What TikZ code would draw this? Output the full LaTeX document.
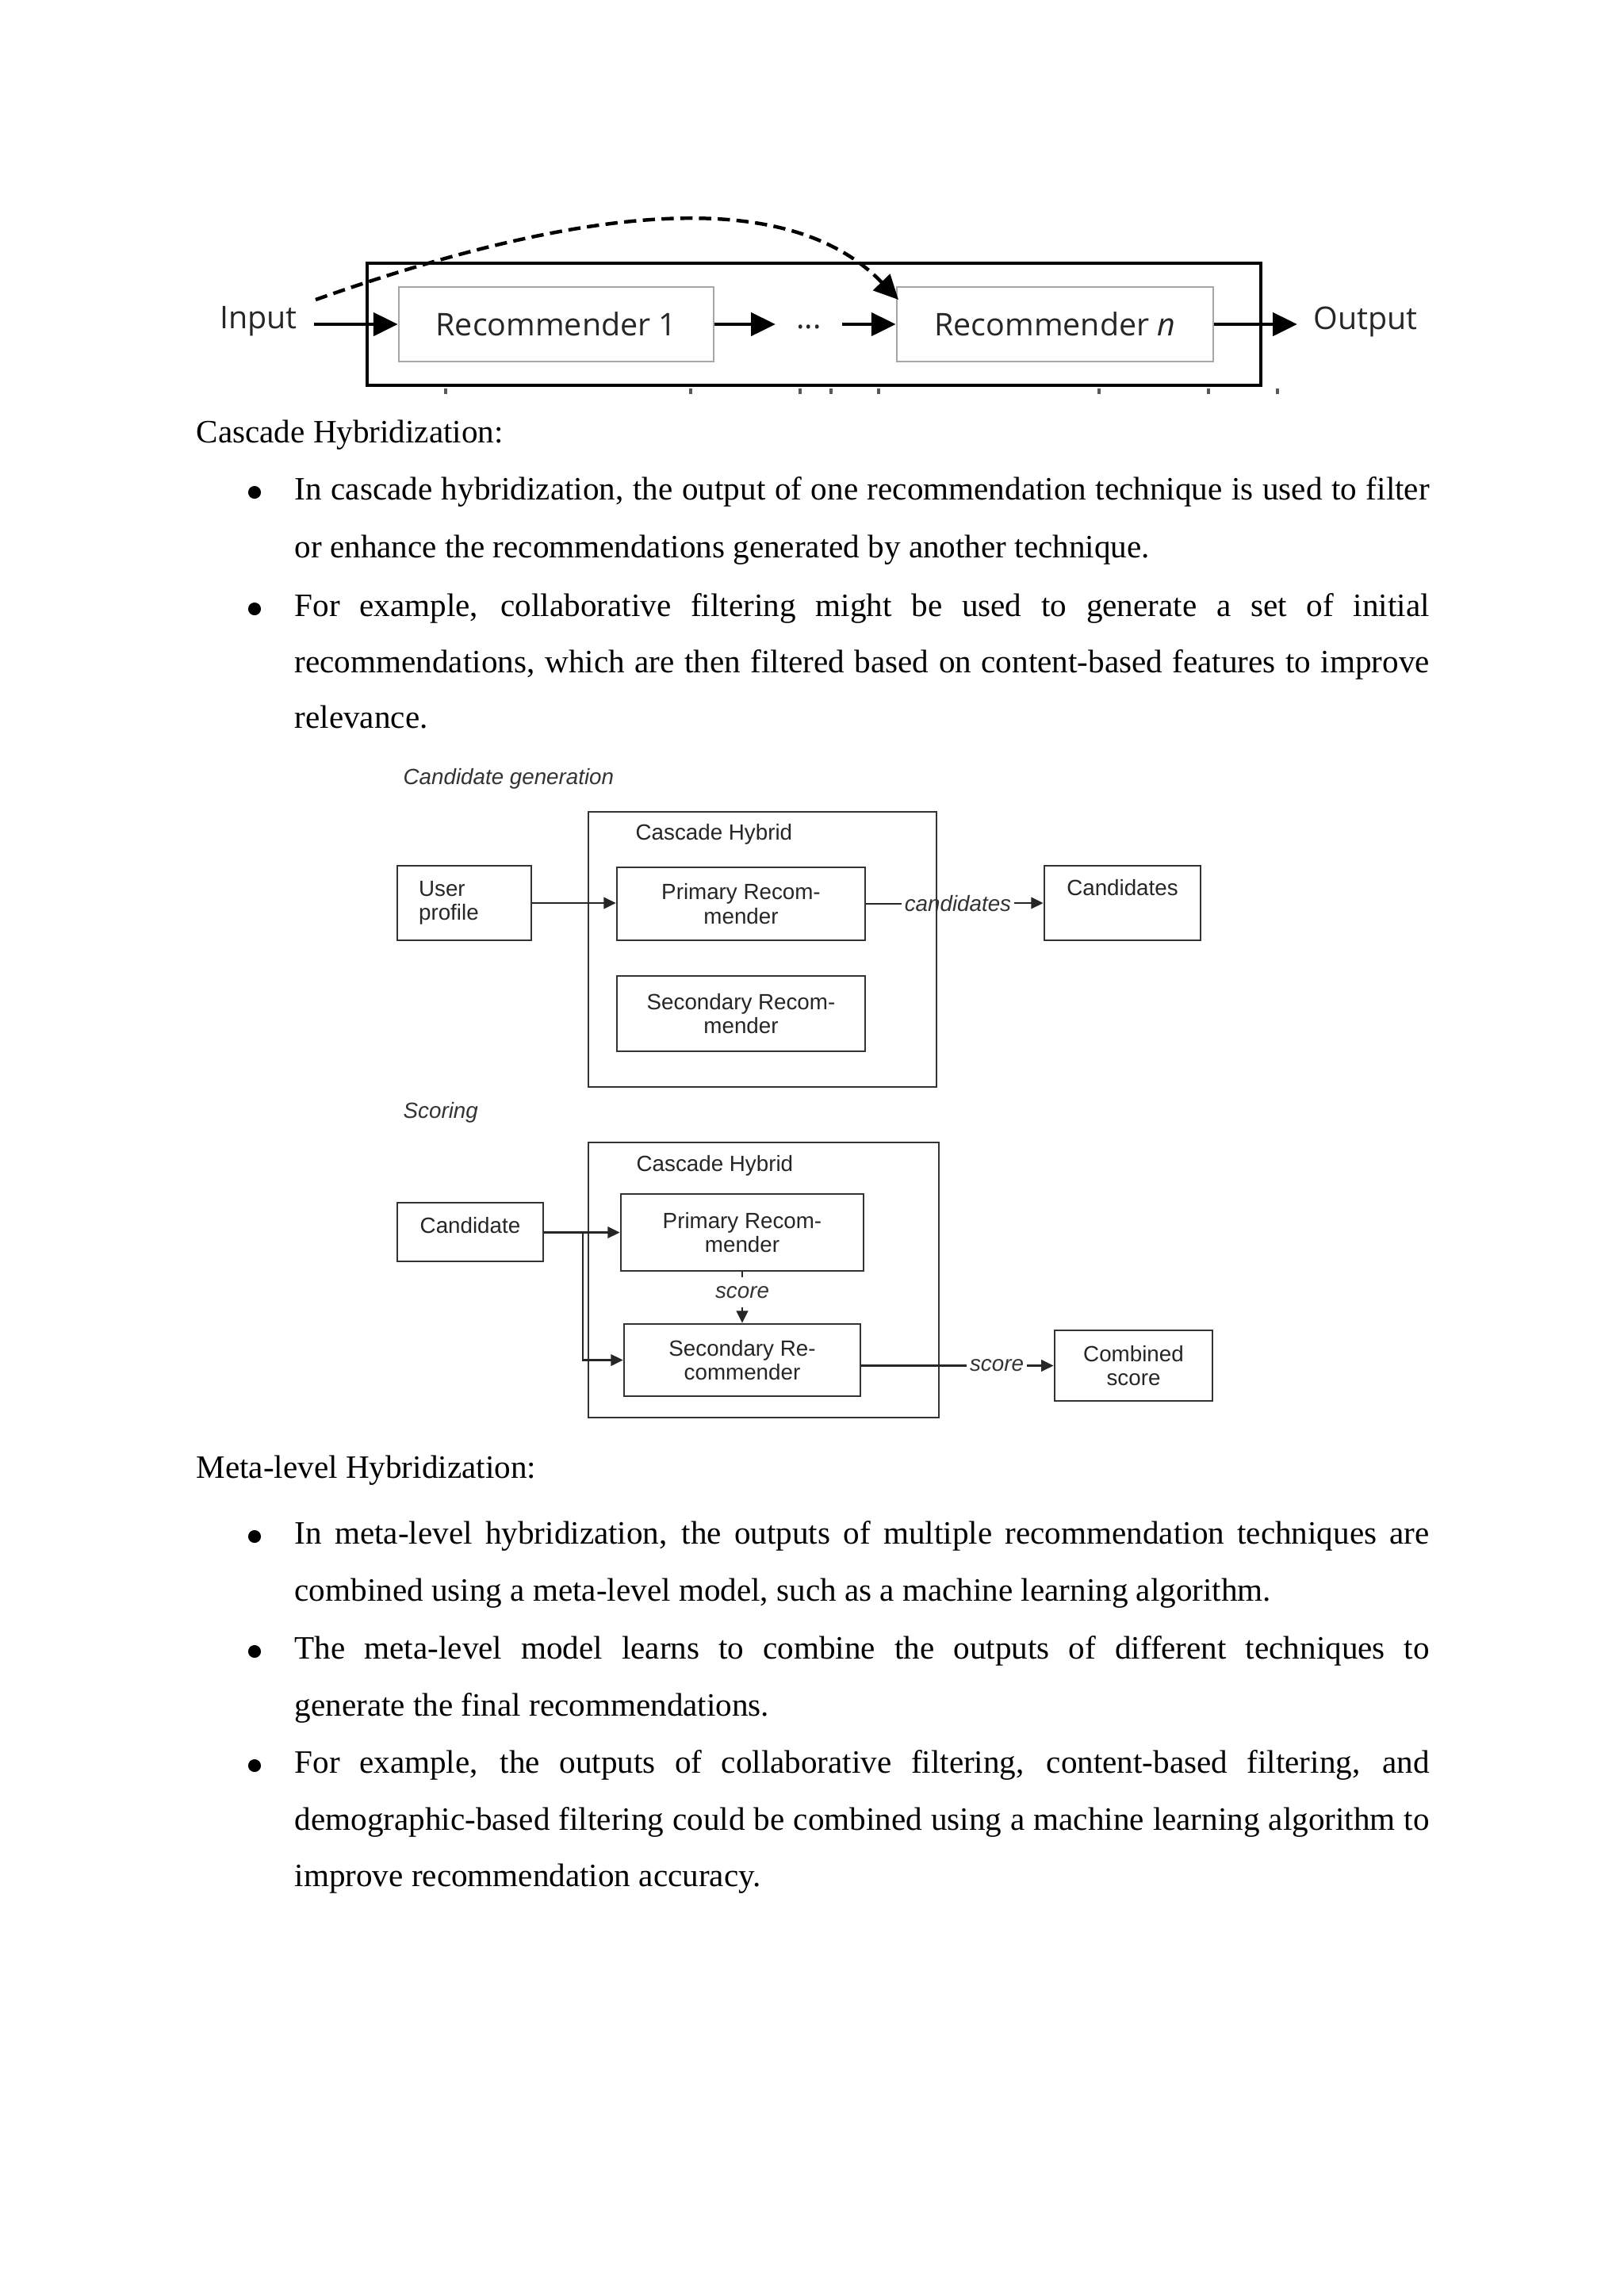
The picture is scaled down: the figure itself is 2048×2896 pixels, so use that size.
\documentclass[tikz,border=0pt]{standalone}
\usepackage{fontspec}
\setmainfont{Liberation Serif}
\newfontfamily\diagfont{Open Sans}
\newfontfamily\arialfont{Liberation Sans}
\usetikzlibrary{arrows.meta}
\newlength\txtw
\setlength\txtw{417.5pt}
\newcommand\jline[1]{\makebox[\txtw][s]{#1}}
\begin{document}
\begin{tikzpicture}[x=0.010254cm, y=-0.010254cm,
  body/.style={font=\fontsize{12pt}{14pt}\selectfont, anchor=base west, inner sep=0pt},
  bul/.style={circle, fill=black, inner sep=0pt, minimum size=4.7pt},
  topbox/.style={draw=black!35, line width=0.8pt, inner sep=0pt, font=\diagfont\fontsize{11.5pt}{13pt}\selectfont, text=black!85},
  toptext/.style={font=\diagfont\fontsize{11.5pt}{13pt}\selectfont, text=black!85, anchor=base, inner ysep=0pt},
  toparrow/.style={line width=1.3pt, -{Triangle[length=9pt,width=8.5pt]}},
  outerframe/.style={draw=black, line width=1.4pt, inner sep=0pt},
  cbox/.style={draw=black!80, line width=0.75pt, inner sep=0pt, font=\arialfont\fontsize{8.1pt}{8.8pt}\selectfont, text=black!85, align=center},
  clabel/.style={font=\arialfont\itshape\fontsize{8.1pt}{8.8pt}\selectfont, text=black!80, inner xsep=1pt, inner ysep=3pt},
  ctitle/.style={font=\arialfont\fontsize{8.1pt}{8.8pt}\selectfont, text=black!85, anchor=west, inner sep=0pt},
  carrow/.style={draw=black!85, line width=0.75pt, -{Triangle[length=4.5pt,width=4.2pt]}},
  cline/.style={draw=black!85, line width=0.75pt},
  tick/.style={fill=black!65}
]
\fill[white] (0,0) rectangle (2048,2896);
\useasboundingbox (0,0) rectangle (2048,2896);

% ---------- top diagram ----------
\node[outerframe, minimum width=328.8pt, minimum height=44.9pt] (outer) at (1026.5,409) {};
\node[topbox, minimum width=115.8pt, minimum height=27.4pt] (rec1) at (701.5,409) {Recommender 1};
\node[topbox, minimum width=116.4pt, minimum height=27.4pt] (recn) at (1330.5,409) {Recommender \textit{n}};
\node[toptext, inner xsep=6pt] (inp) at (326,414) {Input};
\node[toptext, inner xsep=7.5pt] (dots) at (1020,414) {...};
\node[toptext, inner xsep=5.8pt] (outp) at (1722,415) {Output};
\draw[toparrow] (inp.east |- rec1.west) -- (rec1.west);
\draw[toparrow] (rec1.east) -- (rec1.east -| dots.west);
\draw[toparrow] (recn.west -| dots.east) -- (recn.west);
\draw[toparrow] (recn.east) -- (recn.east -| outp.west);
\coordinate (dstart) at (398,378);
\coordinate (dend) at (1133,378);
\draw[line width=1.3pt, dash pattern=on 4.5pt off 2.4pt, -{Triangle[length=9pt,width=8.5pt]}]
  (dstart) .. controls (760,250) and (1000,240) .. (dend);
\foreach \tx in {562,871,1009,1048,1108,1386,1524,1611}
  \fill[tick] (\tx-2,490) rectangle (\tx+2,497);

% ---------- body text ----------
\node[body] (h1) at (247,558) {Cascade Hybridization:};
\node[bul] (b1) at (321,621) {};
\node[body] (l1) at (371,630) {\jline{In cascade hybridization, the output of one recommendation technique is used to filter}};
\node[body] (l2) at (371,703) {or enhance the recommendations generated by another technique.};
\node[bul] (b2) at (321,768) {};
\node[body] (l3) at (371,777) {\jline{For example, collaborative filtering might be used to generate a set of initial}};
\node[body] (l4) at (371,848) {\jline{recommendations, which are then filtered based on content-based features to improve}};
\node[body] (l5) at (371,918) {relevance.};

% ---------- candidate generation ----------
\node[clabel, anchor=west, inner sep=0pt] (cg) at (508,982) {Candidate generation};
\node[cbox, minimum width=128.1pt, minimum height=101.2pt] (ch1) at (961.5,1197.5) {};
\node[ctitle] (ch1t) at (801,1052) {Cascade Hybrid};
\node[cbox, minimum width=49.3pt, minimum height=27.4pt, text width=33.5pt, align=left] (up) at (585.5,1139) {User\\profile};
\node[cbox, minimum width=91.3pt, minimum height=26.8pt] (prim1) at (934.5,1140) {Primary Recom-\\mender};
\node[cbox, minimum width=57.5pt, minimum height=27.4pt] (cands) at (1415.5,1139) {Candidates\\\strut};
\node[cbox, minimum width=91.3pt, minimum height=27.7pt] (sec1) at (934.5,1278.5) {Secondary Recom-\\mender};
\draw[carrow] (up.east) -- (up.east -| prim1.west);
\node[clabel] (lc) at (1208,1140) {candidates};
\draw[cline] (prim1.east) -- (prim1.east -| lc.west);
\draw[carrow] (lc.east |- cands.west) -- (cands.west);

% ---------- scoring ----------
\node[clabel, anchor=west, inner sep=0pt] (sc) at (508,1403) {Scoring};
\node[cbox, minimum width=129pt, minimum height=101.2pt] (ch2) at (963,1614.5) {};
\node[ctitle] (ch2t) at (802,1470) {Cascade Hybrid};
\node[cbox, minimum width=53.7pt, minimum height=21.6pt, text depth=5pt] (cand) at (593,1554) {Candidate};
\node[cbox, minimum width=89.3pt, minimum height=28.3pt] (prim2) at (936,1554.5) {Primary Recom-\\mender};
\node[cbox, minimum width=86.9pt, minimum height=26.5pt] (sec2) at (936,1715.5) {Secondary Re-\\commender};
\node[cbox, minimum width=58.1pt, minimum height=26pt] (comb) at (1429.5,1722.5) {Combined\\score};
\draw[carrow] (cand.east |- prim2.west) -- (prim2.west);
\coordinate (br) at (735,1554.5);
\draw[carrow] (br) |- (sec2.west);
\node[clabel] (ls1) at (936,1630) {score};
\draw[cline] (prim2.south) -- (ls1.north);
\draw[carrow] (ls1.south) -- (sec2.north);
\node[clabel] (ls2) at (1257,1722) {score};
\draw[cline] (sec2.east |- comb.west) -- (ls2.west |- comb.west);
\draw[carrow] (ls2.east |- comb.west) -- (comb.west);

% ---------- meta-level text ----------
\node[body] (h2) at (247,1864) {Meta-level Hybridization:};
\node[bul] (b3) at (321,1938) {};
\node[body] (m1) at (371,1947) {\jline{In meta-level hybridization, the outputs of multiple recommendation techniques are}};
\node[body] (m2) at (371,2019) {combined using a meta-level model, such as a machine learning algorithm.};
\node[bul] (b4) at (321,2083) {};
\node[body] (m3) at (371,2092) {\jline{The meta-level model learns to combine the outputs of different techniques to}};
\node[body] (m4) at (371,2164) {generate the final recommendations.};
\node[bul] (b5) at (321,2227) {};
\node[body] (m5) at (371,2236) {\jline{For example, the outputs of collaborative filtering, content-based filtering, and}};
\node[body] (m6) at (371,2308) {\jline{demographic-based filtering could be combined using a machine learning algorithm to}};
\node[body] (m7) at (371,2379) {improve recommendation accuracy.};
\end{tikzpicture}
\end{document}
